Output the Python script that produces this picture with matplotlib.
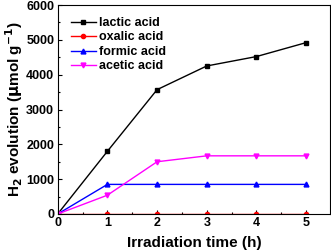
import matplotlib
matplotlib.use("Agg")
import matplotlib.pyplot as plt
from matplotlib.ticker import MultipleLocator

# data
time_h = [0, 1, 2, 3, 4, 5]
lactic = [0, 1800, 3570, 4250, 4520, 4920]
oxalic = [0, 0, 0, 0, 0, 0]
formic = [0, 850, 850, 850, 850, 850]
acetic = [0, 540, 1500, 1670, 1670, 1670]

plt.rcParams['font.family'] = ['Liberation Sans', 'DejaVu Sans']
plt.rcParams['font.weight'] = 'bold'

fig = plt.figure(figsize=(3.31, 2.52), dpi=100)
ax = fig.add_axes([57.7 / 331, 1 - 214 / 252, (330 - 57.7) / 331, (214 - 5) / 252])

ax.plot(time_h, lactic, color='black', marker='s', ms=3, lw=1, label='lactic acid')
ax.plot(time_h, oxalic, color='red', marker='o', ms=3, lw=1, label='oxalic acid')
ax.plot(time_h, formic, color='blue', marker='^', ms=3.5, lw=1, label='formic acid')
ax.plot(time_h, acetic, color='magenta', marker='v', ms=3.5, lw=1, label='acetic acid')

ax.set_xlim(0, 5.48)
ax.set_ylim(0, 6000)
ax.xaxis.set_major_locator(MultipleLocator(1))
ax.xaxis.set_minor_locator(MultipleLocator(0.5))
ax.yaxis.set_major_locator(MultipleLocator(1000))
ax.yaxis.set_minor_locator(MultipleLocator(500))
ax.tick_params(which='both', direction='in', labelsize=9, width=0.8)
ax.tick_params(which='major', length=3, pad=2.5)
ax.tick_params(which='minor', length=1.5)
for s in ax.spines.values():
    s.set_linewidth(0.8)

ax.set_xlabel('Irradiation time (h)', fontsize=11, fontweight='bold', labelpad=5)
ax.set_ylabel(r'H$_\mathbf{2}$ evolution ($\mathbf{\mu}$mol g$^\mathbf{-1}$)',
              fontsize=11, fontweight='bold', labelpad=1)

ax.legend(loc='upper left', bbox_to_anchor=(0.015, 0.985), frameon=False,
          fontsize=9, handlelength=2.0, labelspacing=0.2,
          borderaxespad=0.3, handletextpad=0.3)

fig.savefig('out.png', dpi=100)
